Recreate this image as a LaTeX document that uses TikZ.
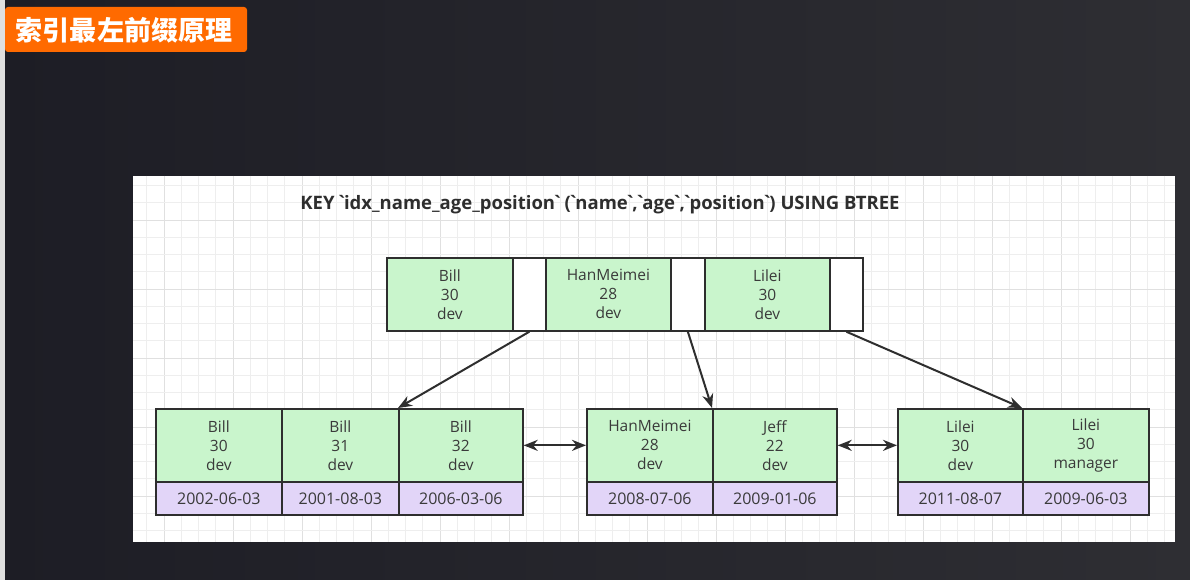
\documentclass[tikz,border=0pt]{standalone}
\usepackage{fontspec}
\setmainfont{Open Sans}
\newfontfamily\plainsans{Open Sans}
\newfontfamily\cjk{Noto Sans CJK SC}
\usetikzlibrary{arrows.meta}
\newcommand\bq{\hbox to 4.6pt{\hss\char96\hss}}
\definecolor{bgdark}{HTML}{1D1D25}
\definecolor{bgmid}{HTML}{2E2E33}
\definecolor{orangebox}{HTML}{FF6A00}
\definecolor{gridminor}{HTML}{EEEEEE}
\definecolor{gridmajor}{HTML}{E0E0E0}
\definecolor{cellgreen}{HTML}{C9F5CC}
\definecolor{cellpurple}{HTML}{E2D5F8}
\definecolor{inkdark}{HTML}{2E2E2E}
\definecolor{txt}{HTML}{3A3A3A}
\tikzset{
  cell/.style={draw=inkdark, line width=1.7pt, fill=cellgreen, anchor=north west,
    inner sep=0pt, minimum height=73pt, align=center, text=txt,
    font=\fontsize{15.5}{19}\selectfont},
  ptr/.style={draw=inkdark, line width=1.7pt, fill=white, anchor=north west,
    inner sep=0pt, minimum height=73pt},
  datecell/.style={draw=inkdark, line width=1.7pt, fill=cellpurple, anchor=north west,
    inner sep=0pt, minimum height=33pt, text=txt,
    font=\fontsize{16}{19}\selectfont},
  link/.style={draw=inkdark, line width=2pt, -{Stealth[length=14pt,width=11pt]}},
  dlink/.style={draw=inkdark, line width=2.2pt, {Stealth[length=14pt,width=11pt]}-{Stealth[length=14pt,width=11pt]}},
}
\begin{document}
\begin{tikzpicture}[x=1pt,y=-1pt]
\useasboundingbox (0,0) rectangle (1190,580);
% background
\shade[left color=bgdark, right color=bgmid] (0,0) rectangle (1190,580);
\fill[gray!25] (0,0) rectangle (5,580);
% title tag
\fill[orangebox, rounded corners=3pt] (5,7) rectangle (247,52);
\node[text=white, font=\cjk\bfseries\fontsize{27}{30}\selectfont, anchor=center] (tag) at (124,30) {索引最左前缀原理};
% white panel with grid
\fill[white] (133,176) rectangle (1175,542);
\begin{scope}
\clip (133,176) rectangle (1175,542);
\foreach \i in {-9,...,51} {
  \pgfmathsetmacro{\xx}{302+\i*17.25}
  \pgfmathtruncatemacro{\m}{mod(\i+40,4)}
  \ifnum\m=0
    \draw[gridmajor, line width=1pt] (\xx,176) -- (\xx,542);
  \else
    \draw[gridminor, line width=1pt] (\xx,176) -- (\xx,542);
  \fi
}
\foreach \i in {-3,...,19} {
  \pgfmathsetmacro{\yy}{220+\i*17.25}
  \pgfmathtruncatemacro{\m}{mod(\i+40,4)}
  \ifnum\m=0
    \draw[gridmajor, line width=1pt] (133,\yy) -- (1175,\yy);
  \else
    \draw[gridminor, line width=1pt] (133,\yy) -- (1175,\yy);
  \fi
}
\end{scope}
% title
\node[font=\plainsans\bfseries\fontsize{18.5}{22}\selectfont, text=inkdark] (title) at (600,205)
  {KEY \bq idx\_name\_age\_position\bq{} (\bq name\bq,\bq age\bq,\bq position\bq) USING BTREE};
% root node
\node[cell, minimum width=126pt] (r1) at (386,257) {Bill\\30\\dev};
\node[ptr, minimum width=33pt] (w1) at (512,257) {};
\node[cell, minimum width=125pt] (r2) at (545,257) {HanMeimei\\28\\dev};
\node[ptr, minimum width=34pt] (w2) at (670,257) {};
\node[cell, minimum width=125pt] (r3) at (704,257) {Lilei\\30\\dev};
\node[ptr, minimum width=33pt] (w3) at (829,257) {};
% leaf 1
\node[cell, minimum width=126pt] (a1) at (155,408) {Bill\\30\\dev};
\node[cell, minimum width=117pt] (a2) at (281,408) {Bill\\31\\dev};
\node[cell, minimum width=124pt] (a3) at (398,408) {Bill\\32\\dev};
\node[datecell, minimum width=126pt] (d1) at (155,481) {2002-06-03};
\node[datecell, minimum width=117pt] (d2) at (281,481) {2001-08-03};
\node[datecell, minimum width=124pt] (d3) at (398,481) {2006-03-06};
% leaf 2
\node[cell, minimum width=126pt] (b1) at (586,408) {HanMeimei\\28\\dev};
\node[cell, minimum width=124pt] (b2) at (712,408) {Jeff\\22\\dev};
\node[datecell, minimum width=126pt] (e1) at (586,481) {2008-07-06};
\node[datecell, minimum width=124pt] (e2) at (712,481) {2009-01-06};
% leaf 3
\node[cell, minimum width=125pt] (c1) at (897,408) {Lilei\\30\\dev};
\node[cell, minimum width=126pt] (c2) at (1022,408) {Lilei\\30\\manager};
\node[datecell, minimum width=125pt] (f1) at (897,481) {2011-08-07};
\node[datecell, minimum width=126pt] (f2) at (1022,481) {2009-06-03};
% pointers
\draw[link] (w1.south) -- (a3.north west);
\draw[link] (w2.south) -- (b2.north west);
\draw[link] (w3.south) -- (c2.north west);
\draw[dlink] (a3.east) -- (b1.west);
\draw[dlink] (b2.east) -- (c1.west);
\end{tikzpicture}
\end{document}
